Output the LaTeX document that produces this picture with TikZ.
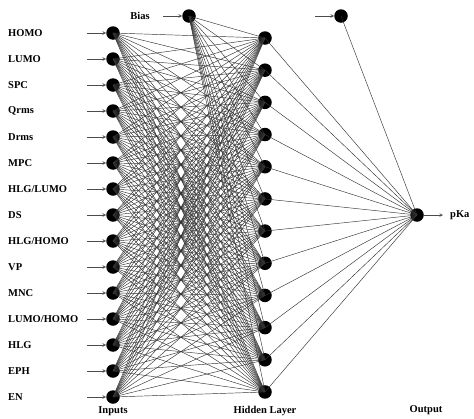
\documentclass[tikz,border=0pt]{standalone}
\usepackage{fontspec}
\setmainfont{Liberation Serif}
\usetikzlibrary{arrows, positioning}

\tikzset{
  neuron/.style={circle, fill=black, inner sep=0pt, minimum size=13.5pt},
  link/.style={black!80, line width=0.45pt},
  feed/.style={->, >=stealth, black!70, line width=0.6pt},
  lbl/.style={font=\bfseries\fontsize{10.5}{12}\selectfont, inner sep=0pt}
}

\begin{document}
\begin{tikzpicture}[x=1pt, y=-1pt]
    \useasboundingbox (0,0) rectangle (474,418);

    % input layer
    \foreach \name [count=\i] in {HOMO, LUMO, SPC, Qrms, Drms, MPC, {HLG/LUMO}, DS,
      {HLG/HOMO}, VP, MNC, {LUMO/HOMO}, HLG, EPH, EN} {
      \node [neuron] (I\i) at (113, {33+26*(\i-1)}) {};
      \node [lbl, anchor=west] (L\i) at (8, {33+26*(\i-1)}) {\name};
      \coordinate (A\i) at (87, {33+26*(\i-1)});
    }

    % hidden layer
    \foreach \j in {1,...,12}
      \node [neuron] (H\j) at (265, {38+32.18*(\j-1)}) {};

    % bias units and output
    \node [neuron] (B1) at (189,16) {};
    \node [lbl] (bias) at (140,16) {Bias};
    \coordinate (BA1) at (163,16);
    \node [neuron] (B2) at (341,16) {};
    \coordinate (BA2) at (315,16);
    \node [neuron] (O) at (417,215) {};
    \coordinate (OA) at (443,215);
    \node [lbl, anchor=west] (pka) at (450,215) {pKa};

    % weights
    \foreach \i in {1,...,15}
      \foreach \j in {1,...,12}
        \draw [link] (I\i.center) -- (H\j.center);
    \foreach \j in {1,...,12} {
      \draw [link] (B1.center) -- (H\j.center);
      \draw [link] (H\j.center) -- (O.center);
    }
    \draw [link] (B2.center) -- (O.center);

    % feeding arrows
    \foreach \i in {1,...,15}
      \draw [feed] (A\i) -- (I\i);
    \draw [feed] (BA1) -- (B1);
    \draw [feed] (BA2) -- (B2);
    \draw [feed] (O) -- (OA);

    \node [lbl] (inputs) at (113,411) {Inputs};
    \node [lbl] (hidden) at (265,411) {Hidden Layer};
    \node [lbl] (output) at (426,410) {Output};
  \end{tikzpicture}
\end{document}
